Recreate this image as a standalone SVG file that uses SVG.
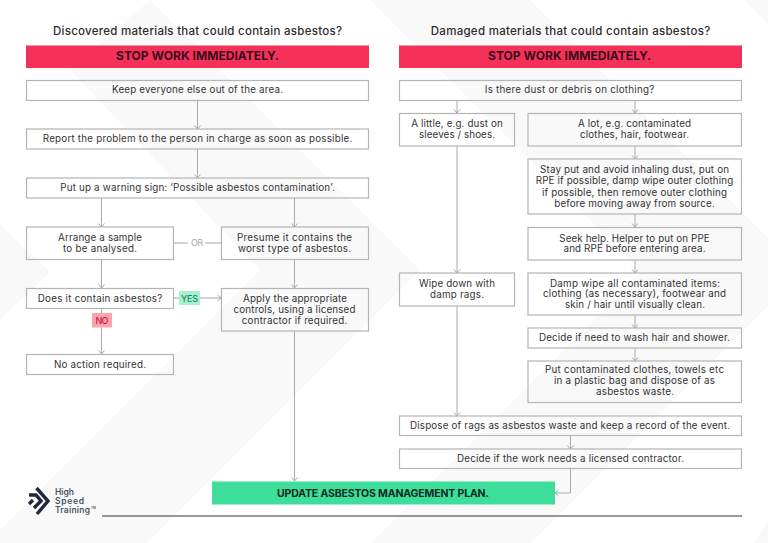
<svg xmlns="http://www.w3.org/2000/svg" width="768" height="543" viewBox="0 0 768 543">
<style>
text{font-family:"Inter","Liberation Sans",sans-serif;text-anchor:middle}
.b{fill:none;stroke:#b4b4b4;stroke-width:1.2}
.t{font-size:9.8px;fill:#333}
.h{font-size:11.5px;font-weight:500;fill:#2c2c2c}
.s{font-size:12px;font-weight:700;fill:#3a0d1c}
.bar{fill:#f43158}
.c{fill:none;stroke:#a9a9a9;stroke-width:1}
.a{marker-end:url(#ar)}
.bg{fill:#f9f9fa}
.lg{fill:none;stroke:#1e2a3b;stroke-width:3.4}
</style>
<defs><marker id="ar" markerUnits="userSpaceOnUse" markerWidth="8" markerHeight="8" refX="6.5" refY="4" orient="auto"><path d="M3 1 L6.500 4 L3 7" fill="none" stroke="#a9a9a9" stroke-width="1"/></marker></defs>
<rect width="768" height="543" fill="#fff"/>
<g id="background">
<polygon class="bg" points="0,225 50,272 0,320"/>
<polygon class="bg" points="70,70 150,0 420,270 147,543 0,543 0,530 260,270"/>
<polygon class="bg" points="370,0 530,0 802,272 531,543 371,543 642,272"/>
<polygon class="bg" points="744,0 768,0 768,24"/>
<polygon class="bg" points="768,520 768,543 754,543"/>
</g>
<g id="connectors">
<path class="c a" d="M197.500 100V129"/><path class="c a" d="M197.500 149V178"/>
<path class="c a" d="M101.500 198V227"/><path class="c a" d="M294.500 198V227"/>
<path class="c a" d="M101.500 259.500V288"/><path class="c a" d="M294.500 259.500V288"/>
<path class="c" d="M173.500 243H188M205 243H221.500"/>
<path class="c" d="M173.500 298H179"/><path class="c a" d="M200 298H221"/>
<path class="c" d="M101.500 308V313"/><path class="c a" d="M101.500 327.500V354"/>
<path class="c a" d="M294.500 331V481"/>
<path class="c a" d="M457 100V113"/><path class="c a" d="M635 100V113"/>
<path class="c a" d="M635 146V159"/><path class="c a" d="M635 214V227"/>
<path class="c a" d="M635 260V273"/><path class="c a" d="M635 315V328"/>
<path class="c a" d="M635 348V361"/><path class="c a" d="M457 146V273"/>
<path class="c a" d="M457 306V416"/><path class="c a" d="M570.500 435.500V449"/>
<path class="c a" d="M570.500 468.500V493H555"/>
</g>
<g id="title-left"><text class="h" x="197.500" y="34.500" textLength="289">Discovered materials that could contain asbestos?</text></g>
<g id="title-right"><text class="h" x="570.500" y="34.500" textLength="279.500">Damaged materials that could contain asbestos?</text></g>
<g id="stop-left"><rect class="bar" x="26" y="45.500" width="343" height="22.500"/><text class="s" x="197.500" y="60" textLength="163">STOP WORK IMMEDIATELY.</text></g>
<g id="stop-right"><rect class="bar" x="399" y="45.500" width="343" height="22.500"/><text class="s" x="569.500" y="60" textLength="163">STOP WORK IMMEDIATELY.</text></g>
<g id="keep"><rect class="b" x="26.500" y="80.500" width="342" height="20"/><text class="t" x="197.500" y="93" textLength="171">Keep everyone else out of the area.</text></g>
<g id="report"><rect class="b" x="26.500" y="129" width="342" height="20"/><text class="t" x="197.500" y="142" textLength="309.500">Report the problem to the person in charge as soon as possible.</text></g>
<g id="warning"><rect class="b" x="26.500" y="178" width="342" height="20"/><text class="t" x="197.500" y="191" textLength="274.500">Put up a warning sign: ‘Possible asbestos contamination’.</text></g>
<g id="sample"><rect class="b" x="26.500" y="227" width="147" height="32.500"/><text class="t" x="100" y="240.500" textLength="84">Arrange a sample</text><text class="t" x="100" y="251.500" textLength="74">to be analysed.</text></g>
<g id="or"><text x="197" y="246" style="font-size:9px;fill:#a9a9a9" textLength="12">OR</text></g>
<g id="presume"><rect class="b" x="221.500" y="227" width="147" height="32.500"/><text class="t" x="294.500" y="240.500" textLength="115">Presume it contains the</text><text class="t" x="294.500" y="251.500" textLength="113">worst type of asbestos.</text></g>
<g id="contain"><rect class="b" x="26.500" y="288.500" width="147" height="20"/><text class="t" x="100" y="301.500" textLength="124.500">Does it contain asbestos?</text></g>
<g id="yes"><rect x="179" y="291" width="21" height="14" fill="#a9efce"/><text x="189.500" y="301.500" style="font-size:9px;font-weight:500;fill:#12935e" textLength="17">YES</text></g>
<g id="no"><rect x="92" y="313" width="20" height="14.500" fill="#f8a5b0"/><text x="102" y="323.500" style="font-size:9px;font-weight:500;fill:#d6163f" textLength="13">NO</text></g>
<g id="controls"><rect class="b" x="221.500" y="288.500" width="147" height="42.500"/><text class="t" x="295" y="301.500" textLength="104">Apply the appropriate</text><text class="t" x="294.500" y="312.500" textLength="122">controls, using a licensed</text><text class="t" x="294.500" y="323.500" textLength="105.500">contractor if required.</text></g>
<g id="no-action"><rect class="b" x="26.500" y="354.500" width="147" height="20"/><text class="t" x="100" y="367.500" textLength="92">No action required.</text></g>
<g id="dust"><rect class="b" x="399.500" y="80.500" width="342" height="20"/><text class="t" x="569.500" y="93" textLength="169.500">Is there dust or debris on clothing?</text></g>
<g id="little"><rect class="b" x="399.500" y="113.500" width="115" height="32.500"/><text class="t" x="457" y="127" textLength="91.500">A little, e.g. dust on</text><text class="t" x="457" y="138" textLength="76">sleeves / shoes.</text></g>
<g id="lot"><rect class="b" x="528" y="113.500" width="213.500" height="32.500"/><text class="t" x="634.500" y="127" textLength="113">A lot, e.g. contaminated</text><text class="t" x="634.500" y="138" textLength="109">clothes, hair, footwear.</text></g>
<g id="stay"><rect class="b" x="528" y="159" width="213.500" height="55"/><text class="t" x="634.500" y="173" textLength="189">Stay put and avoid inhaling dust, put on</text><text class="t" x="634.500" y="184" textLength="197.500">RPE if possible, damp wipe outer clothing</text><text class="t" x="634.500" y="195.500" textLength="185">if possible, then remove outer clothing</text><text class="t" x="634.500" y="206.500" textLength="160.500">before moving away from source.</text></g>
<g id="seek"><rect class="b" x="528" y="227.500" width="213.500" height="32.500"/><text class="t" x="634.500" y="241.500" textLength="150.500">Seek help. Helper to put on PPE</text><text class="t" x="634.500" y="252" textLength="142">and RPE before entering area.</text></g>
<g id="wipe"><rect class="b" x="399.500" y="273" width="115" height="33"/><text class="t" x="457" y="287" textLength="76">Wipe down with</text><text class="t" x="457" y="298" textLength="54">damp rags.</text></g>
<g id="damp"><rect class="b" x="528" y="273" width="213.500" height="42"/><text class="t" x="635" y="286.500" textLength="170">Damp wipe all contaminated items:</text><text class="t" x="634.500" y="297" textLength="183">clothing (as necessary), footwear and</text><text class="t" x="635" y="308" textLength="140">skin / hair until visually clean.</text></g>
<g id="wash"><rect class="b" x="528" y="328" width="213.500" height="20"/><text class="t" x="634.500" y="340.500" textLength="191">Decide if need to wash hair and shower.</text></g>
<g id="bag"><rect class="b" x="528" y="361" width="213.500" height="41.500"/><text class="t" x="634.500" y="372.500" textLength="179">Put contaminated clothes, towels etc</text><text class="t" x="634.500" y="384" textLength="161">in a plastic bag and dispose of as</text><text class="t" x="635" y="395" textLength="78">asbestos waste.</text></g>
<g id="dispose"><rect class="b" x="399.500" y="416" width="342" height="19.500"/><text class="t" x="570" y="428.500" textLength="320">Dispose of rags as asbestos waste and keep a record of the event.</text></g>
<g id="licensed"><rect class="b" x="399.500" y="449" width="342" height="19.500"/><text class="t" x="570.500" y="461.500" textLength="227">Decide if the work needs a licensed contractor.</text></g>
<g id="update"><rect x="212" y="481.500" width="343" height="23" fill="#3cde9a"/><text x="383" y="497" style="font-size:10.500px;font-weight:700;fill:#10291f" textLength="212">UPDATE ASBESTOS MANAGEMENT PLAN.</text></g>
<g id="logo">
<path class="lg" d="M36.500 488 L48 501 L37 514"/>
<path class="lg" d="M29 495 H36 L41 501 L34 508"/>
<path class="lg" d="M29 504 L33 500"/>
<g style="font-size:8.500px;font-weight:600;fill:#4a5360"><text x="55" y="494.500" style="text-anchor:start" textLength="19">High</text><text x="55" y="503.500" style="text-anchor:start" textLength="29">Speed</text><text x="55" y="513" style="text-anchor:start" textLength="35">Training</text><text x="91" y="509" style="text-anchor:start;font-size:3px">TM</text></g>
</g>
<path id="rule" d="M102 516H742" stroke="#2f3747" stroke-width="1" fill="none"/>
</svg>
